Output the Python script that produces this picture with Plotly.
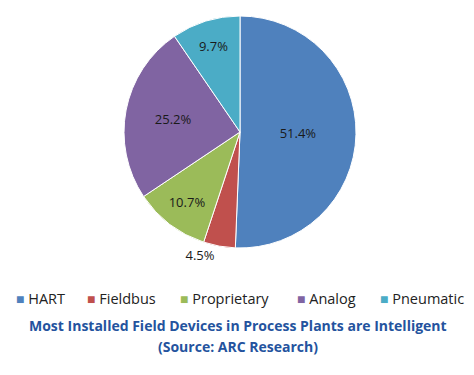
import plotly.graph_objects as go

labels = ["HART", "Fieldbus", "Proprietary", "Analog", "Pneumatic"]
values = [51.4, 4.5, 10.7, 25.2, 9.7]
colors = ["#4F81BD", "#C0504D", "#9BBB59", "#8064A2", "#4BACC6"]
title_lines = ["Most Installed Field Devices in Process Plants are Intelligent",
               "(Source: ARC Research)"]

W, H = 474, 375
cx, cy, r = 240, 132, 116
FONT = "Open Sans, Liberation Sans, sans-serif"

fig = go.Figure(go.Pie(
    labels=labels, values=values, sort=False, direction="clockwise", rotation=0,
    marker=dict(colors=colors, line=dict(color="white", width=1)),
    texttemplate="%{value:.1f}%",
    textposition=["inside", "outside", "inside", "inside", "inside"],
    insidetextorientation="horizontal",
    textfont=dict(family=FONT, size=13, color="#1a1a1a"),
    outsidetextfont=dict(family=FONT, size=13, color="#1a1a1a"),
    hoverinfo="label+percent",
    showlegend=False,
    domain=dict(x=[(cx - r) / W, (cx + r) / W], y=[(H - cy - r) / H, (H - cy + r) / H]),
))

# legend row drawn as text entries (left edge of each square, in px)
legend_x = [14, 85, 178, 295, 378]
annotations = []
for lab, col, lx in zip(labels, colors, legend_x):
    annotations.append(dict(
        text="<span style='font-size:14px;color:%s'>■</span> %s" % (col, lab),
        x=lx / W, y=(H - 298) / H, xref="paper", yref="paper",
        showarrow=False, xanchor="left", yanchor="middle",
        font=dict(family=FONT, size=14.5, color="#222")))

for i, line in enumerate(title_lines):
    annotations.append(dict(
        text="<b>%s</b>" % line, x=238 / W, y=(H - (325 + 21 * i)) / H,
        xref="paper", yref="paper", showarrow=False,
        xanchor="center", yanchor="middle",
        font=dict(family=FONT, size=14, color="#24539E")))

fig.update_layout(
    width=W, height=H,
    margin=dict(l=0, r=0, t=0, b=0),
    paper_bgcolor="white", plot_bgcolor="white",
    annotations=annotations,
)

fig.write_html("out.html", config={"displayModeBar": False},
               post_script="document.body.style.margin='0';")
